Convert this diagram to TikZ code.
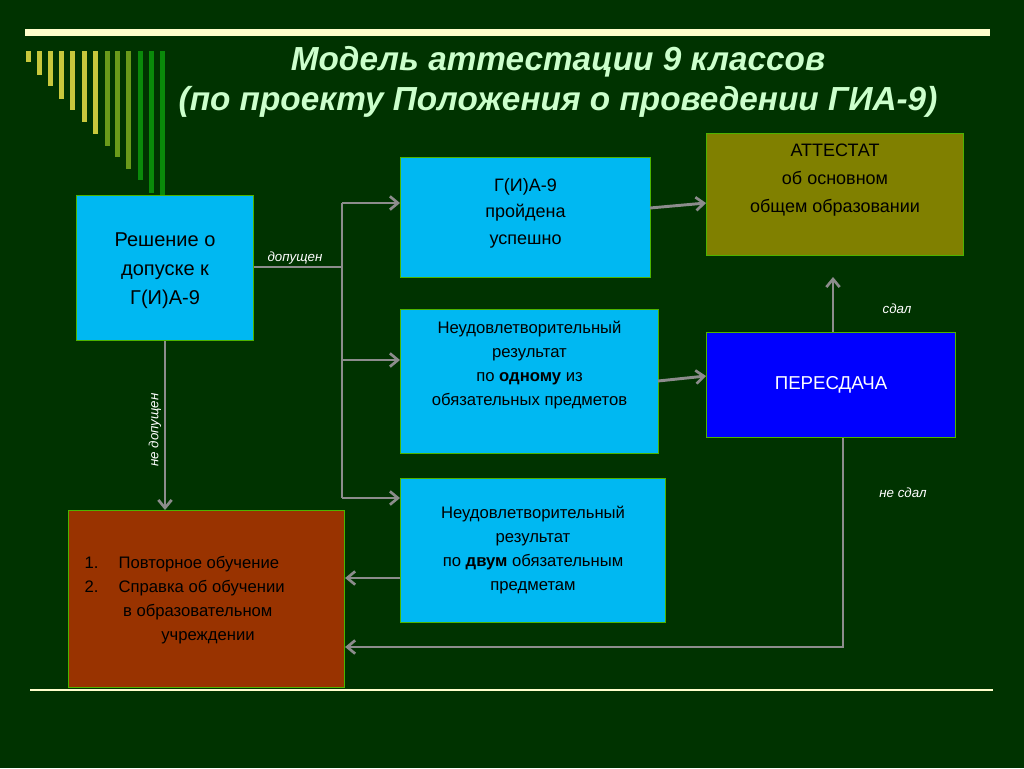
\documentclass[tikz,border=0pt]{standalone}
\usepackage{fontspec}
\setmainfont{Liberation Sans}
\usetikzlibrary{arrows.meta}
\definecolor{bg}{HTML}{003300}
\definecolor{cy}{HTML}{00B8F2}
\definecolor{ol}{HTML}{808000}
\definecolor{br}{HTML}{993300}
\definecolor{cream}{HTML}{FFFFCC}
\definecolor{ttl}{HTML}{CCFFCC}
\definecolor{ln}{HTML}{8C8C8C}
\definecolor{b1}{HTML}{C8C83C}
\definecolor{b2}{HTML}{6A9A1A}
\definecolor{b3}{HTML}{0A8A0A}
\begin{document}
\begin{tikzpicture}[x=0.75pt,y=-0.75pt,
  box/.style={draw=ol!60!green,line width=0.8pt,align=center,font=\fontsize{12.5}{18}\selectfont,text=black,inner sep=0pt},
  conn/.style={draw=ln,line width=2.2pt,-{Straight Barb[length=6pt,width=10pt,line width=2pt]}},
  seg/.style={draw=ln,line width=2.2pt},
  lab/.style={text=white,font=\itshape\fontsize{10}{12}\selectfont}]
\fill[bg] (0,0) rectangle (1024,768);
\useasboundingbox (0,0) rectangle (1024,768);
\fill[cream] (25,29) rectangle (990,36);
\draw[cream,line width=1pt] (30,690) -- (993,690);
\foreach \x/\b/\c in {28/62/b1,39/75/b1,50/86/b1,61/99/b1,72/110/b1,84/122/b1,95/134/b1,107/146/b2,117/157/b2,128/169/b2,140/180/b3,151/193/b3,162/195/b3}
  \fill[\c] (\x-2.5,51) rectangle (\x+2.5,\b);
\node[text=ttl,font=\bfseries\itshape\fontsize{25}{30}\selectfont,align=center] (title) at (558,82) {Модель аттестации 9 классов\\(по проекту Положения о проведении ГИА-9)};
\node[box,fill=cy,minimum width=132.75pt,minimum height=108.75pt,font=\fontsize{15}{22}\selectfont,anchor=north west] (dec) at (76,195) {\\[-0.5em]Решение о\\допуске к\\ Г(И)А-9};
\node[box,fill=cy,minimum width=187.5pt,minimum height=90pt,anchor=north west,font=\fontsize{13.5}{20}\selectfont] (pass) at (400,157) {Г(И)А-9\\пройдена\\ успешно\\[-0.8em]};
\node[box,fill=cy,minimum width=193.5pt,minimum height=108pt,anchor=north west] (one) at (400,309) {Неудовлетворительный\\результат\\по \textbf{одному} из\\обязательных предметов\\[0.8em]};
\node[box,fill=cy,minimum width=198.75pt,minimum height=108pt,anchor=north west] (two) at (400,478) {Неудовлетворительный\\результат\\по \textbf{двум} обязательным\\предметам};
\node[box,fill=ol,minimum width=192.75pt,minimum height=91.5pt,anchor=north west,font=\fontsize{13.5}{21}\selectfont] (att) at (706,133) {АТТЕСТАТ\\об основном\\общем образовании\\[0.3em]};
\node[box,fill=blue,text=white,minimum width=186.75pt,minimum height=78.75pt,anchor=north west,font=\fontsize{14}{17}\selectfont] (re) at (706,332) {ПЕРЕСДАЧА};
\node[box,fill=br,minimum width=207pt,minimum height=132.75pt,anchor=north west] (rep) at (68,510) {};
\node[align=left,font=\fontsize{12.5}{18}\selectfont,anchor=north west] (reptxt) at (80,552) {1.\hspace{1.2em}Повторное обучение\\2.\hspace{1.2em}Справка об обучении\\\hspace{2.3em}в образовательном\\\hspace{4.6em}учреждении};
\coordinate (j) at (342,267);
\coordinate (jt) at (342,203);
\coordinate (jm) at (342,360);
\coordinate (jb) at (342,498);
\draw[seg] (dec.east|-j) -- (j);
\draw[seg] (jt) -- (jb);
\draw[conn] (jt) -- (jt-|pass.west);
\draw[conn] (jm) -- (jm-|one.west);
\draw[conn] (jb) -- (jb-|two.west);
\draw[conn] (650,208) -- (att.west|-0,203);
\draw[conn] (658,381) -- (re.west|-0,376);
\draw[conn] (re.north-|833,0) -- (833,277);
\draw[conn] (re.south-|843,0) |- (rep.east|-0,647);
\draw[conn] (two.west|-0,578) -- (rep.east|-0,578);
\draw[conn] (dec.south-|165,0) -- (rep.north-|165,0);
\node[lab] (l1) at (295,258) {допущен};
\node[lab,rotate=90] (l2) at (155,430) {не допущен};
\node[lab] (l3) at (897,309) {сдал};
\node[lab] (l4) at (903,493) {не сдал};
\end{tikzpicture}
\end{document}
